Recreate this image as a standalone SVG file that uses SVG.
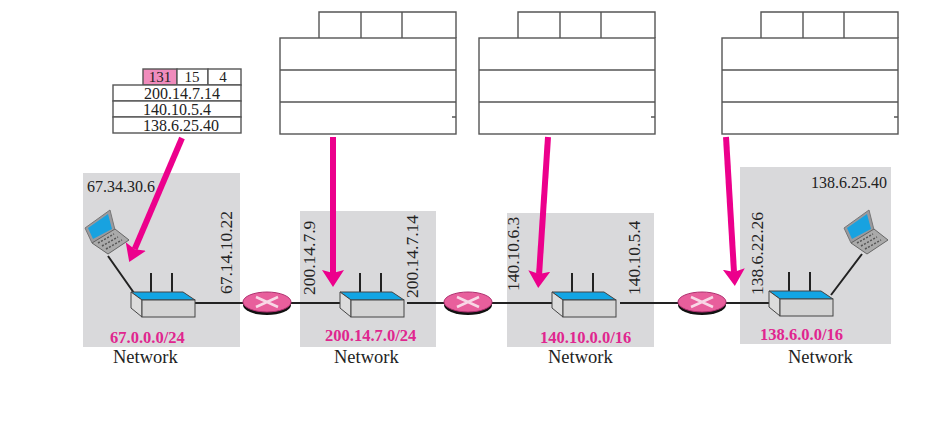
<svg xmlns="http://www.w3.org/2000/svg" width="938" height="432" viewBox="0 0 938 432">
<style>
text{font-family:"Liberation Serif","Times New Roman",serif;fill:#222}
.t{font-size:16px}
.h{font-size:15px}
.v{font-size:17.5px}
.n{font-size:18.5px}
.p{font-size:16.5px;font-weight:bold;fill:#e0268f}
.bg{fill:#d9d9db}
.grid{fill:#fff;stroke:#555;stroke-width:1.4}
.ln{fill:none;stroke:#555;stroke-width:1.4}
.wire{fill:none;stroke:#222;stroke-width:2}
.arrow{fill:none;stroke:#ec008c;stroke-width:6;marker-end:url(#head)}
</style>
<defs>
<marker id="head" markerUnits="userSpaceOnUse" markerWidth="24" markerHeight="24" viewBox="0 -12 24 24" refX="3" refY="0" orient="auto">
<path d="M0,-11 L17,0 L0,11 L3,0 Z" fill="#ec008c"/>
</marker>
<g id="hub">
<path d="M20,-19V4M41,-19V4" stroke="#222" stroke-width="2"/>
<polygon points="0,0 52,0 64,8 11,8" fill="#12a5e4" stroke="#444"/>
<polygon points="0,0 11,8 11,25 0,16" fill="#dcdcdc" stroke="#444"/>
<rect x="11" y="8" width="53" height="17" fill="#d4d4d4" stroke="#444"/>
</g>
<g id="router">
<ellipse cx="0" cy="3" rx="24" ry="10" fill="#111"/>
<ellipse cx="0" cy="0" rx="24" ry="10" fill="#e85f9c" stroke="#b03070"/>
<path d="M-11,-5L11,5M-11,5L11,-5" stroke="#f8d8e6" stroke-width="2.500"/>
</g>
<g id="laptop">
<polygon points="85,228 110,210 115,230 92,243" fill="#9a9a9e" stroke="#777"/>
<polygon points="88,228 108,214 112,229 93,239" fill="#18a2e0"/>
<polygon points="92,243 115,229 129,240 108,254" fill="#aaa" stroke="#666"/>
<path d="M98,243L114,234M102,246L118,237M106,249L122,240" stroke="#555" stroke-width="1.500" stroke-dasharray="2 1.500"/>
</g>
</defs>
<rect width="938" height="432" fill="#fff"/>
<g id="net1-area"><rect class="bg" x="83" y="173" width="157" height="174"/></g>
<g id="net2-area"><rect class="bg" x="300" y="211" width="136" height="136"/></g>
<g id="net3-area"><rect class="bg" x="507" y="213" width="147" height="134"/></g>
<g id="net4-area"><rect class="bg" x="740" y="167" width="151" height="177"/></g>
<g id="connectors">
<path class="wire" d="M195,303H243M291,303H340M407,303H445M492,303H552M620,303H678M726,303H769"/>
<path class="wire" d="M108,256L134,293M831,295L862,254"/>
</g>
<g id="table1">
<rect x="143" y="69" width="34" height="16" fill="#f08cbc" stroke="#555" stroke-width="1.400"/>
<rect class="grid" x="177" y="69" width="31" height="16"/>
<rect class="grid" x="208" y="69" width="33" height="16"/>
<rect class="grid" x="113" y="85" width="128" height="16"/>
<rect class="grid" x="113" y="101" width="128" height="16"/>
<rect class="grid" x="113" y="117" width="128" height="16"/>
<text class="h" x="160" y="81.500" text-anchor="middle">131</text>
<text class="h" x="192" y="81.500" text-anchor="middle">15</text>
<text class="h" x="223" y="81.500" text-anchor="middle">4</text>
<text class="t" x="144" y="98.500">200.14.7.14</text>
<text class="t" x="143" y="115">140.10.5.4</text>
<text class="t" x="143" y="131">138.6.25.40</text>
</g>
<g id="table2">
<rect class="grid" x="280" y="38" width="176" height="96"/>
<path class="ln" d="M319,38V12H456V38M361,12V38M402,12V38M452,117H456M280,70H456M280,102H456"/>
</g>
<g id="table3">
<rect class="grid" x="479" y="38" width="176" height="96"/>
<path class="ln" d="M518,38V12H655V38M560,12V38M601,12V38M651,117H655M479,70H655M479,102H655"/>
</g>
<g id="table4">
<rect class="grid" x="722" y="38" width="176" height="96"/>
<path class="ln" d="M761,38V12H898V38M803,12V38M844,12V38M894,117H898M722,70H898M722,102H898"/>
</g>
<g id="laptop1"><use href="#laptop"/></g>
<g id="laptop2"><use href="#laptop" transform="translate(759,0)"/></g>
<g id="hub1"><use href="#hub" transform="translate(131,292)"/></g>
<g id="hub2"><use href="#hub" transform="translate(340,292)"/></g>
<g id="hub3"><use href="#hub" transform="translate(552,292)"/></g>
<g id="hub4"><use href="#hub" transform="translate(769,291)"/></g>
<g id="router1"><use href="#router" transform="translate(267,302)"/></g>
<g id="router2"><use href="#router" transform="translate(468,302)"/></g>
<g id="router3"><use href="#router" transform="translate(702,302)"/></g>
<g id="labels">
<text class="t" x="87" y="192">67.34.30.6</text>
<text class="t" x="811" y="188">138.6.25.40</text>
<text class="v" transform="translate(232,294) rotate(-90)">67.14.10.22</text>
<text class="v" transform="translate(315,295) rotate(-90)">200.14.7.9</text>
<text class="v" transform="translate(418,298) rotate(-90)">200.14.7.14</text>
<text class="v" transform="translate(519,291) rotate(-90)">140.10.6.3</text>
<text class="v" transform="translate(640,295) rotate(-90)">140.10.5.4</text>
<text class="v" transform="translate(763,295) rotate(-90)">138.6.22.26</text>
<text class="p" x="110" y="343">67.0.0.0/24</text>
<text class="p" x="325" y="341">200.14.7.0/24</text>
<text class="p" x="540" y="343">140.10.0.0/16</text>
<text class="p" x="760" y="340">138.6.0.0/16</text>
<text class="n" x="113" y="363">Network</text>
<text class="n" x="334" y="363">Network</text>
<text class="n" x="548" y="363">Network</text>
<text class="n" x="788" y="363">Network</text>
</g>
<g id="arrows">
<path class="arrow" d="M182,138L134.700,249.200"/>
<path class="arrow" d="M333,137V273"/>
<path class="arrow" d="M548,137L539.100,274"/>
<path class="arrow" d="M726,137L734,272"/>
</g>
</svg>
